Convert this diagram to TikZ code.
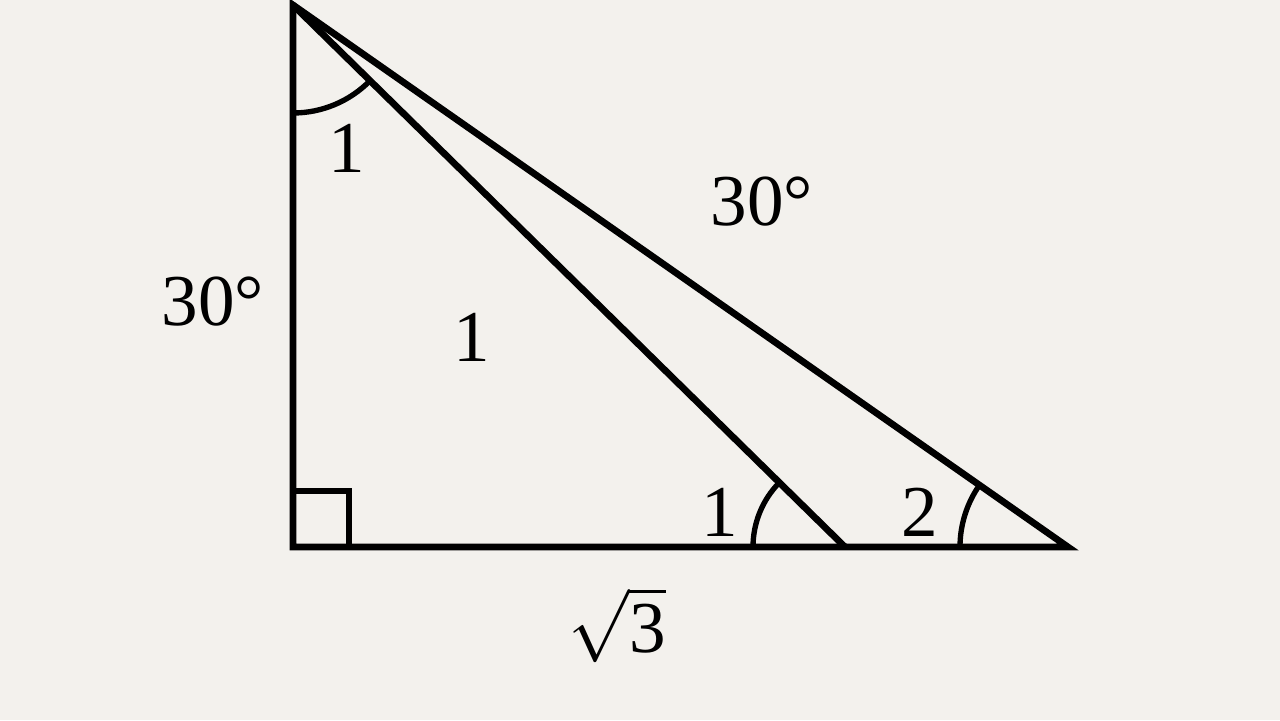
\RequirePackage{fix-cm}
\documentclass[tikz,border=0pt]{standalone}
\usepackage{amsmath}
\usepackage{fontspec}
\setmainfont{Liberation Serif}
\usetikzlibrary{positioning,calc}
\definecolor{paper}{HTML}{F3F1ED}

\begin{document}
\begin{tikzpicture}[line width=4.8pt, line join=miter,
    lbl/.style={inner sep=0pt, font=\fontsize{52}{60}\selectfont},
    angarc/.style={line width=3.8pt}]
    % Background sheet
    \fill[paper] (0,0) rectangle (32,18);
    \useasboundingbox (0,0) rectangle (32,18);

    % Triangle corners
    \coordinate (A) at (7.325,17.875);
    \coordinate (C) at (7.325,4.325);
    \coordinate (B) at (26.7,4.325);
    \coordinate (D) at (21.125,4.325);

    % Outer triangle and inner line
    \draw (A) -- (C) -- (B) -- cycle;
    \draw (A) -- (D);

    % Right angle mark
    \draw (C) rectangle ++(1.4,1.4);

    % Angle arcs
    \draw[angarc] (A) ++(-90:2.7) arc[start angle=-90, end angle=-44.5, radius=2.7];
    \draw[angarc] (D) ++(135.5:2.3) arc[start angle=135.5, end angle=180, radius=2.3];
    \draw[angarc] (B) ++(145:2.7) arc[start angle=145, end angle=180, radius=2.7];

    % Labels
    \node[lbl] (angA) at (8.675,14.3) {1};
    \node[lbl] (angTop) at (19.05,12.95) {30°};
    \node[lbl] (angLeft) at (5.325,10.45) {30°};
    \node[lbl] (sideAD) at (11.8,9.575) {1};
    \node[lbl] (angD) at (18.0,5.2) {1};
    \node[lbl] (angB) at (23.0,5.2) {2};
    \node[lbl] (sideCB) at (15.425,2.375) {$\sqrt{\text{3}}$};
\end{tikzpicture}
\end{document}
